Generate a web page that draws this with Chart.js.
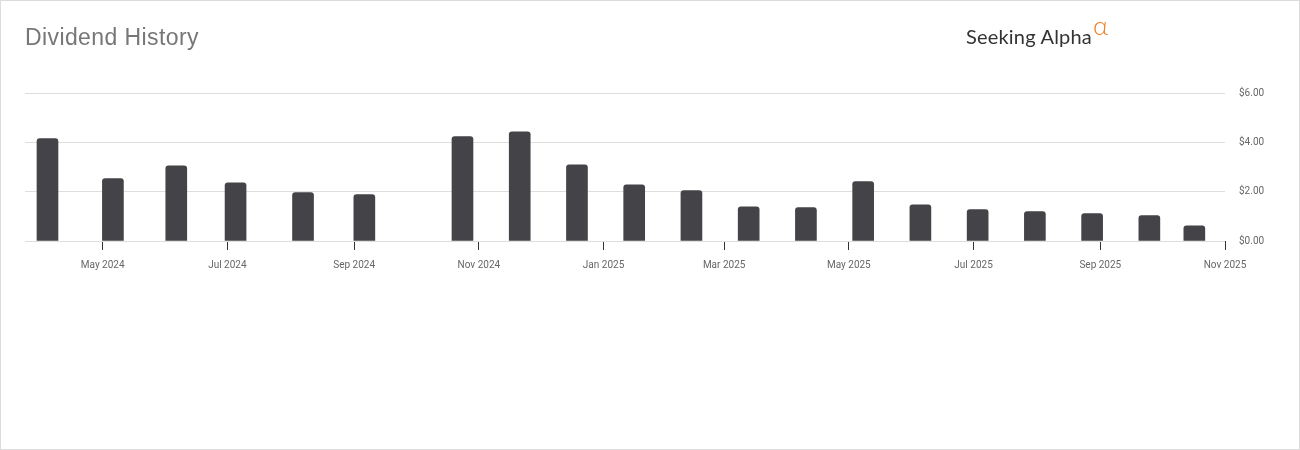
<!DOCTYPE html>
<html><head><meta charset="utf-8">
<script src="https://cdn.jsdelivr.net/npm/chart.js@4.4.0/dist/chart.umd.min.js"></script>
<style>
html,body{margin:0;padding:0;background:#fff;}
#page{position:relative;width:1300px;height:450px;overflow:hidden;}
#frame{position:absolute;left:0;top:0;width:1300px;height:450px;box-sizing:border-box;border:1px solid #dcdcdc;pointer-events:none;}
#title{position:absolute;left:25px;top:24px;font:23px "Liberation Sans",Arial,sans-serif;color:#777;white-space:nowrap;letter-spacing:0.4px;}
#logo{position:absolute;left:966px;top:18px;font:20px Lato,"Open Sans",sans-serif;color:#333;white-space:nowrap;letter-spacing:0.2px;}
#logo .a{color:#f27a1a;font-size:26px;font-weight:300;position:relative;top:-9px;margin-left:1px;}
#c{position:absolute;left:0;top:0;}
</style></head>
<body>
<div id="page">
<canvas id="c" width="1300" height="450"></canvas>
<div id="title">Dividend History</div>
<div id="logo">Seeking Alpha<span class="a">α</span></div>
<div id="frame"></div>
</div>
<script>
const payDates = ['2024-04-04','2024-05-06','2024-06-06','2024-07-05','2024-08-07','2024-09-06',
  '2024-10-24','2024-11-21','2024-12-19','2025-01-16','2025-02-13','2025-03-13','2025-04-10',
  '2025-05-08','2025-06-05','2025-07-03','2025-07-31','2025-08-28','2025-09-25','2025-10-17'];
const amounts = [4.15,2.53,3.05,2.36,1.96,1.88,4.23,4.43,3.09,2.28,2.04,1.39,1.35,2.41,1.47,1.27,1.19,1.11,1.03,0.62];
const xTickDates = ['2024-05-01','2024-07-01','2024-09-01','2024-11-01','2025-01-01','2025-03-01',
  '2025-05-01','2025-07-01','2025-09-01','2025-11-01'];
const yTickValues = [0,2,4,6];
const xRange = ['2024-03-24','2025-11-01'];
const monthNames = ['Jan','Feb','Mar','Apr','May','Jun','Jul','Aug','Sep','Oct','Nov','Dec'];

const toTs = s => Date.parse(s + 'T00:00:00Z');

new Chart(document.getElementById('c'), {
  type: 'bar',
  data: {
    datasets: [{
      data: payDates.map((d, i) => ({x: toTs(d), y: amounts[i]})),
      backgroundColor: '#434348',
      barThickness: 21,
      borderRadius: {topLeft: 3, topRight: 3, bottomLeft: 0, bottomRight: 0},
      borderSkipped: 'bottom'
    }]
  },
  options: {
    responsive: false,
    animation: false,
    devicePixelRatio: 1,
    layout: {padding: {left: 25, top: 93, right: 0, bottom: 0}},
    plugins: {legend: {display: false}, tooltip: {enabled: false}},
    scales: {
      x: {
        type: 'linear',
        offset: false,
        min: toTs(xRange[0]),
        max: toTs(xRange[1]),
        afterBuildTicks: s => { s.ticks = xTickDates.map(d => ({value: toTs(d)})); },
        ticks: {
          callback: v => { const d = new Date(v); return monthNames[d.getUTCMonth()] + ' ' + d.getUTCFullYear(); },
          font: {family: 'Roboto', size: 10},
          color: '#666',
          padding: 9,
          maxRotation: 0,
          autoSkip: false
        },
        grid: {offset: false, drawOnChartArea: false, tickLength: 9, color: '#333', tickColor: '#333', tickWidth: 1},
        border: {display: false},
        afterFit: s => { s.height = 450 - 241; }
      },
      y: {
        position: 'right',
        min: 0,
        max: 6,
        afterBuildTicks: s => { s.ticks = yTickValues.map(v => ({value: v})); },
        ticks: {
          callback: v => '$' + Number(v).toFixed(2),
          font: {family: 'Roboto', size: 10},
          color: '#666',
          padding: 14
        },
        grid: {color: '#dedede', drawTicks: false},
        border: {display: false},
        afterFit: s => { s.width = 1300 - 1225; }
      }
    }
  }
});
</script>
</body></html>
